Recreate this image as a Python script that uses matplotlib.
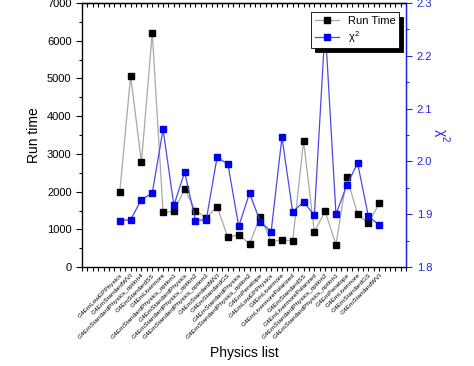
import numpy as np
import matplotlib
matplotlib.use("Agg")
import matplotlib.pyplot as plt
from matplotlib.ticker import MultipleLocator

plt.rcParams['font.family'] = ['Liberation Sans', 'DejaVu Sans']
plt.rcParams['mathtext.fontset'] = 'custom'
plt.rcParams['mathtext.rm'] = 'Liberation Sans'
plt.rcParams['mathtext.it'] = 'Liberation Sans'

# physics lists on the x axis
physics = ["G4EmLowEPPhysics", "G4EmStandardWVI", "G4EmStandardPhysics_option4",
           "G4EmStandardSS", "G4EmLivermore", "G4EmStandardPhysics_option1",
           "G4EmStandardPhysics", "G4EmStandardPhysics_option2", "G4EmStandardPhysics_option3",
           "G4EmStandardWVI", "G4EmStandardGS", "G4EmStandardPhysics",
           "G4EmStandardPhysics_option2", "G4EmPenelope", "G4EmLowEPPhysics",
           "G4EmLivermore", "G4EmLivermorePolarized", "G4EmStandardSS",
           "G4EmLivermorePolarized", "G4EmStandardPhysics_option2", "G4EmStandardPhysics_option1",
           "G4EmPenelope", "G4EmLivermore", "G4EmStandardGS", "G4EmStandardWVI"]

# run time and chi square for every list
run_time = [2000, 5070, 2780, 6210, 1450, 1480, 2060, 1500, 1310, 1600, 790, 860,
            620, 1340, 680, 720, 700, 3340, 940, 1480, 590, 2390, 1400, 1160, 1690]
chi2 = [1.888, 1.890, 1.928, 1.940, 2.061, 1.917, 1.980, 1.888, 1.890, 2.008, 1.995,
        1.877, 1.940, 1.886, 1.867, 2.046, 1.904, 1.924, 1.898, 2.255, 1.900, 1.955,
        1.997, 1.896, 1.880]

blue = "#2424e0"
x = np.arange(1, len(physics) + 1)

fig = plt.figure(figsize=(4.74, 3.66), dpi=100)
ax = fig.add_axes([0.173, 0.270, 0.684, 0.722])
ax2 = ax.twinx()

l1, = ax.plot(x, run_time, color="#a8a8a8", lw=0.9, marker="s", ms=4.2,
              mfc="black", mec="black", label="Run Time")
l2, = ax2.plot(x, chi2, color="#4a4ae8", lw=0.9, marker="s", ms=4.2,
               mfc="#0000ee", mec="#0000ee", label=r"$\chi^2$")

ax.set_xlim(-2.5, 27.5)
ax.set_ylim(0, 7000)
ax2.set_ylim(1.8, 2.3)

ax.set_xticks(x)
ax.set_xticklabels(physics, rotation=45, ha="right", rotation_mode="anchor", fontsize=4.6)
ax.xaxis.set_minor_locator(MultipleLocator(0.5))
ax.tick_params(axis="x", which="both", direction="out", length=3, width=0.8, pad=1)

# top axis ticks point inwards
top = ax.secondary_xaxis("top")
top.set_xticks(x)
top.xaxis.set_minor_locator(MultipleLocator(0.5))
top.tick_params(axis="x", which="both", direction="in", length=3, width=0.8,
                labeltop=False)
top.spines["top"].set_linewidth(0.9)

ax.yaxis.set_major_locator(MultipleLocator(1000))
ax.yaxis.set_minor_locator(MultipleLocator(500))
ax.tick_params(axis="y", which="major", labelsize=8, length=4, width=0.8)
ax.tick_params(axis="y", which="minor", length=2.5, width=0.8)

ax2.yaxis.set_major_locator(MultipleLocator(0.1))
ax2.yaxis.set_minor_locator(MultipleLocator(0.05))
ax2.tick_params(axis="y", which="major", labelsize=8, length=4, width=0.8,
                colors=blue)
ax2.tick_params(axis="y", which="minor", length=2.5, width=0.8, colors=blue)
ax2.spines["right"].set_color(blue)
ax2.spines["right"].set_linewidth(1.0)
for s in ["left", "top", "bottom"]:
    ax.spines[s].set_linewidth(0.9)

ax.set_xlabel("Physics list", fontsize=10, labelpad=4)
ax.set_ylabel("Run time", fontsize=10)
ax2.set_ylabel(r"$\chi^2$", fontsize=10, color=blue, rotation=270, labelpad=14)

leg = ax2.legend(handles=[l1, l2], loc="upper right", bbox_to_anchor=(0.995, 0.985),
                 fontsize=8, fancybox=False, framealpha=1, edgecolor="black",
                 borderpad=0.3, labelspacing=0.3, handlelength=2.2,
                 shadow={"color": "black", "alpha": 1, "ox": 3, "oy": -3})
leg.get_frame().set_linewidth(0.6)

fig.savefig("out.png", dpi=100)
